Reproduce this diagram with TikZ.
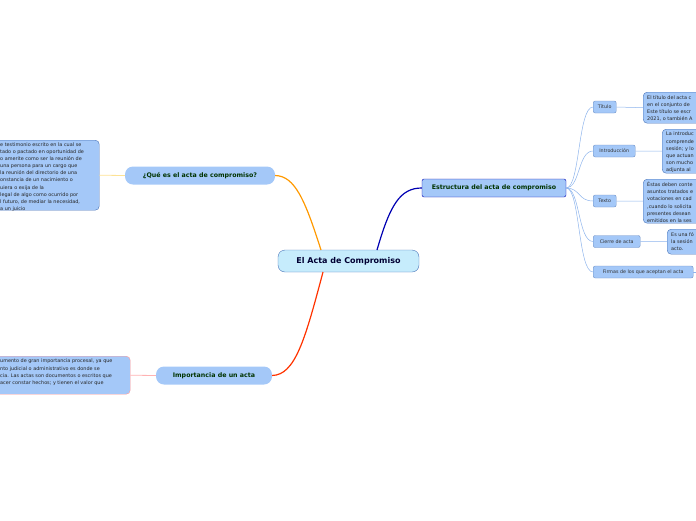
\documentclass[tikz,border=0pt]{standalone}
\usepackage{fontspec}
\setmainfont{DejaVu Sans}
\definecolor{fillb}{HTML}{A4C8F8}
\definecolor{fillc}{HTML}{C6ECFC}
\definecolor{bordb}{HTML}{4A74B8}
\definecolor{fanc}{HTML}{8EB4EC}
\begin{document}
\begin{tikzpicture}[x=1pt,y=-1pt,
  main/.style={draw=bordb,fill=fillc,rounded corners=7pt,font=\fontsize{8}{9}\selectfont\bfseries,text=blue!20!black,minimum width=141pt,minimum height=22pt,inner sep=0pt},
  topic/.style={fill=fillb,rounded corners=8pt,font=\fontsize{6.3}{7}\selectfont\bfseries,text=green!20!black,minimum height=18pt,inner sep=0pt},
  sub/.style={draw=bordb!80,fill=fillb,rounded corners=2pt,font=\fontsize{4.8}{5}\selectfont,text=black!80,minimum height=12pt,inner sep=0pt,anchor=west,align=left,inner xsep=3pt},
  box/.style={draw=bordb,fill=fillb,rounded corners=4pt,inner sep=0pt,anchor=north west},
  txt/.style={font=\fontsize{4.9}{7.1}\selectfont,align=left,anchor=north west,inner sep=0pt,text=black!85},
  fan/.style={draw=fanc,line width=0.5pt}]
\useasboundingbox (0,0) rectangle (696,520);
\clip (0,0) rectangle (696,520);
\coordinate (cq) at (321,250); \coordinate (ci) at (323,272); \coordinate (ce) at (377,250);
\node[main] (c) at (348.5,261) {El Acta de Compromiso};
\node[topic,minimum width=150pt] (q) at (200,175.5) {¿Qué es el acta de compromiso?};
\node[topic,minimum width=116pt] (i) at (214,375.5) {Importancia de un acta};
\node[draw=blue!70!black,fill=fillb,rounded corners=2pt,minimum width=144pt,minimum height=18pt,inner sep=0pt,font=\fontsize{6.3}{7}\selectfont\bfseries,text=green!20!black] (e) at (494,188) {Estructura del acta de compromiso};
\draw[orange!80!yellow,line width=1.2pt] (cq) .. controls (305,200) and (295,176) .. (q.east);
\draw[red!60!orange,line width=1.2pt] (ci) .. controls (305,340) and (295,375) .. (i.east);
\draw[blue!70!black,line width=1.2pt] (ce) .. controls (390,205) and (400,188) .. (e.west);
\node[box,minimum width=110pt,minimum height=70pt] (lb1) at (-11,140) {};
\node[box,draw=red!40,minimum width=141pt,minimum height=38pt] (lb2) at (-11,356) {};
\draw[yellow!50!orange!40,line width=0.8pt] (lb1.east) -- (q.west);
\draw[red!30,line width=0.8pt] (lb2.east) -- (i.west);
\node[txt] (t1) at (0,142.5) {e testimonio escrito en la cual se\\tado o pactado en oportunidad de\\o amerite como ser la reunión de\\una persona para un cargo que\\la reunión del directorio de una\\onstancia de un nacimiento o\\uiera o exija de la\\legal de algo como ocurrido por\\l futuro, de mediar la necesidad,\\a un juicio};
\node[txt] (t2) at (0,359) {umento de gran importancia procesal, ya que\\nto judicial o administrativo es donde se\\cia. Las actas son documentos o escritos que\\acer constar hechos; y tienen el valor que};
\node[sub,minimum width=23pt] (s1) at (593,107) {Título};
\node[sub,minimum width=42pt] (s2) at (593,151) {Introducción};
\node[sub,minimum width=23pt] (s3) at (593,201) {Texto};
\node[sub,minimum width=47pt] (s4) at (593,241.5) {Cierre de acta};
\node[sub,minimum width=100pt] (s5) at (593,272) {Firmas de los que aceptan el acta};
\foreach \s in {s1,s2,s3,s4,s5} \draw[fan] (e.east) .. controls (580,188) and (578,0 |- \s.west) .. (\s.west);
\node[box,minimum width=60pt,minimum height=31pt] (b1) at (643,92) {};
\node[box,minimum width=40pt,minimum height=44pt] (b2) at (662,129) {};
\node[box,minimum width=60pt,minimum height=44pt] (b3) at (643,179) {};
\node[box,minimum width=40pt,minimum height=25pt] (b4) at (667,229) {};
\draw[fan] (s1.east) -- (b1.west); \draw[fan] (s2.east) -- (b2.west);
\draw[fan] (s3.east) -- (b3.west); \draw[fan] (s4.east) -- (b4.west);
\coordinate (f5) at (698,272); \draw[fan] (s5.east) -- (f5);
\node[txt] at (647,95.5) {El título del acta c\\en el conjunto de\\Este título se escr\\2021, o también A};
\node[txt] at (666,132) {La introduc\\comprende\\sesión; y lo\\que actuan\\son mucho\\adjunta al};
\node[txt] at (647,182) {Éstas deben conte\\asuntos tratados e\\votaciones en cad\\,cuando lo solicita\\presentes desean\\emitidos en la ses};
\node[txt] at (671,232) {Es una fó\\la sesión\\acto.};
\end{tikzpicture}
\end{document}
